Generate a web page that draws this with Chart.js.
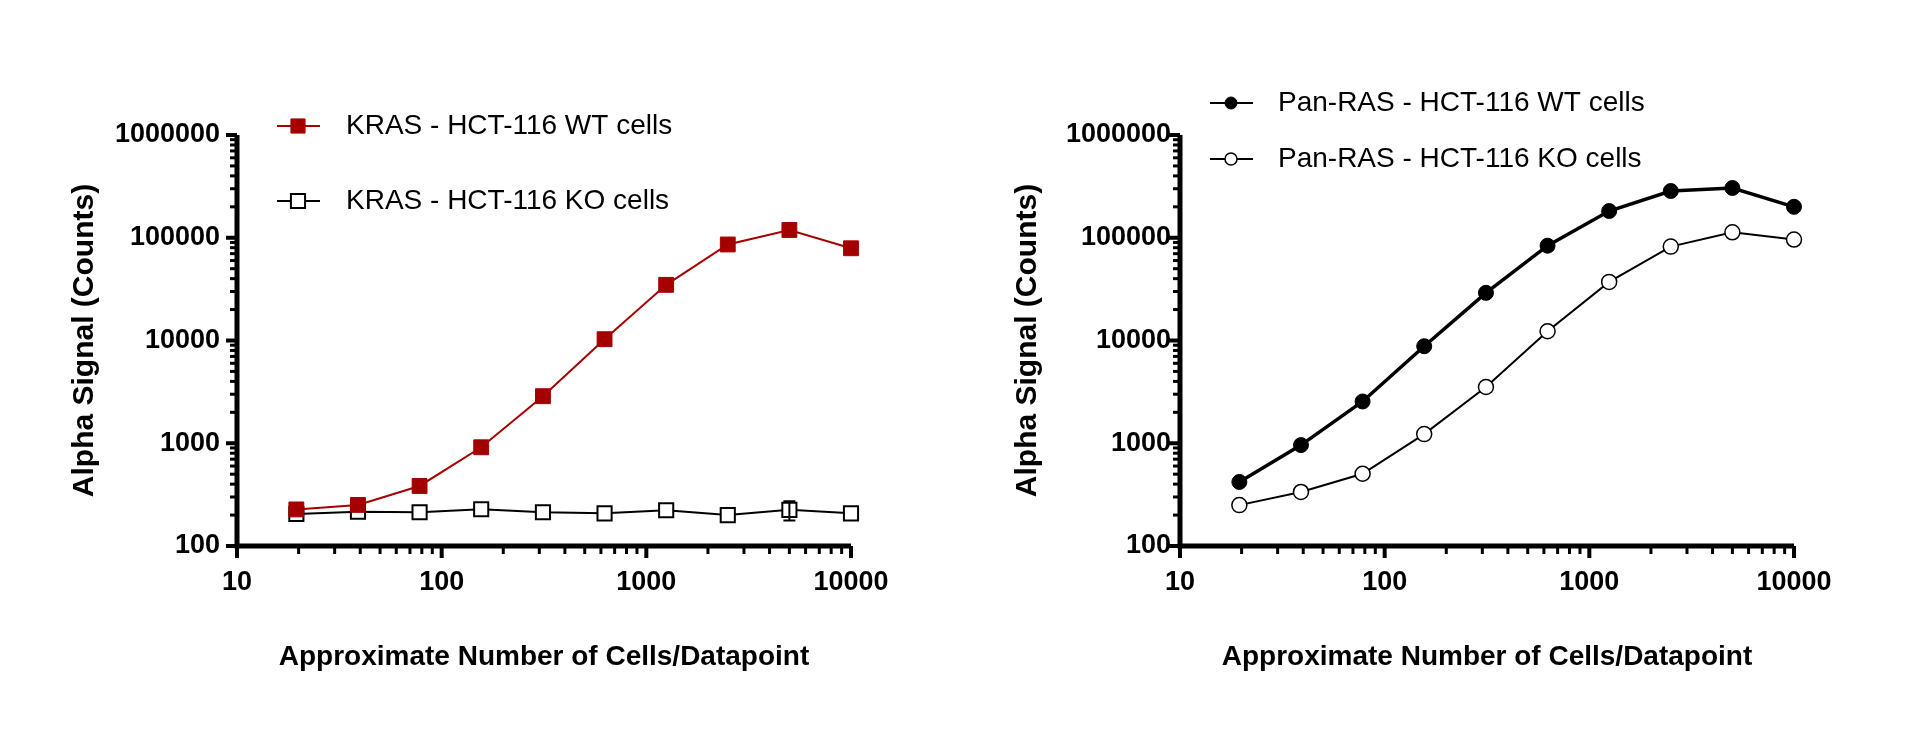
<!DOCTYPE html>
<html>
<head>
<meta charset="utf-8">
<script src="https://cdn.jsdelivr.net/npm/chart.js@4.4.0/dist/chart.umd.min.js"></script>
<style>
    html, body { margin: 0; padding: 0; background: #fff; }
    #wrap { position: relative; width: 1920px; height: 736px; overflow: hidden; }
    canvas { position: absolute; top: 0; }
</style>
</head>
<body>
<div id="wrap">
    <canvas id="krasChart" width="960" height="736" style="left:0px"></canvas>
    <canvas id="panChart" width="960" height="736" style="left:943px"></canvas>
</div>
<script>
// cells per datapoint (2-fold dilutions)
const cellCounts = [19.5, 39, 78, 156, 312.5, 625, 1250, 2500, 5000, 10000];

// left panel
const krasWT = [227, 251, 384, 914, 2870, 10300, 34800, 86000, 119000, 79000];
const krasKO = [205, 216, 213, 228, 213, 208, 223, 200, 225, 208];
const krasKOErr = [0, 0, 0, 0, 0, 0, 0, 0, 48, 0];

// right panel
const panWT = [420, 960, 2550, 8800, 29100, 83700, 182000, 285000, 305000, 200000];
const panKO = [250, 336, 505, 1227, 3525, 12300, 37200, 82000, 113000, 96000];

// axis ticks
const xTicks = [10, 100, 1000, 10000];
const yTicks = [100, 1000, 10000, 100000, 1000000];

const FONT = "'Liberation Sans', Arial, Helvetica, sans-serif";
const RED = '#A50000';

function minorTicks(majors) {
    const out = [];
    for (let i = 0; i < majors.length - 1; i++) {
        for (let m = 2; m <= 9; m++) out.push(majors[i] * m);
    }
    return out;
}

function pairs(values) {
    return cellCounts.map((c, i) => ({ x: c, y: values[i] }));
}

// axis lines + outward tick marks like the Prism export
const axesPlugin = {
    id: 'prismAxes',
    beforeDatasetsDraw(chart) {
        const { ctx, chartArea: a, scales: { x, y } } = chart;
        ctx.save();
        ctx.strokeStyle = '#000';
        ctx.lineWidth = 5;
        ctx.beginPath();
        ctx.moveTo(a.left, a.top);
        ctx.lineTo(a.left, a.bottom + 2.5);
        ctx.moveTo(a.left - 2.5, a.bottom);
        ctx.lineTo(a.right, a.bottom);
        ctx.stroke();

        const drawX = (v, len, w) => {
            const px = x.getPixelForValue(v);
            ctx.lineWidth = w;
            ctx.beginPath();
            ctx.moveTo(px, a.bottom);
            ctx.lineTo(px, a.bottom + len);
            ctx.stroke();
        };
        const drawY = (v, len, w) => {
            const py = y.getPixelForValue(v);
            ctx.lineWidth = w;
            ctx.beginPath();
            ctx.moveTo(a.left, py);
            ctx.lineTo(a.left - len, py);
            ctx.stroke();
        };
        minorTicks(xTicks).forEach(v => drawX(v, 8, 3));
        xTicks.forEach(v => drawX(v, 12, 4));
        minorTicks(yTicks).forEach(v => drawY(v, 7, 3));
        yTicks.forEach(v => drawY(v, 11, 4));
        ctx.restore();
    }
};

const errorBarPlugin = {
    id: 'errorBars',
    afterDatasetsDraw(chart) {
        const { ctx, scales: { y } } = chart;
        chart.data.datasets.forEach((ds, di) => {
            if (!ds.errors) return;
            const meta = chart.getDatasetMeta(di);
            ctx.save();
            ctx.strokeStyle = ds.borderColor;
            ctx.lineWidth = 2;
            ds.errors.forEach((e, i) => {
                if (!e) return;
                const pt = meta.data[i];
                const v = ds.data[i].y;
                const top = y.getPixelForValue(v + e);
                const bot = y.getPixelForValue(v - e);
                ctx.beginPath();
                ctx.moveTo(pt.x, top); ctx.lineTo(pt.x, bot);
                ctx.moveTo(pt.x - 6, top); ctx.lineTo(pt.x + 6, top);
                ctx.moveTo(pt.x - 6, bot); ctx.lineTo(pt.x + 6, bot);
                ctx.stroke();
            });
            ctx.restore();
        });
    }
};

// stacked legend in the top-left of the plot
const legendPlugin = {
    id: 'stackLegend',
    afterDraw(chart, args, opts) {
        const ctx = chart.ctx;
        chart.data.datasets.forEach((ds, i) => {
            const cy = opts.rows[i];
            ctx.save();
            ctx.strokeStyle = ds.borderColor;
            ctx.lineWidth = 2;
            ctx.beginPath();
            ctx.moveTo(opts.x - 21, cy);
            ctx.lineTo(opts.x + 22, cy);
            ctx.stroke();
            ctx.fillStyle = ds.pointBackgroundColor;
            ctx.strokeStyle = ds.pointBorderColor;
            ctx.lineWidth = ds.pointBorderWidth;
            Chart.helpers.drawPoint(ctx, {
                pointStyle: ds.pointStyle,
                rotation: 0,
                radius: opts.radius,
                borderWidth: ds.pointBorderWidth
            }, opts.x, cy);
            ctx.fillStyle = '#000';
            ctx.font = '28px ' + FONT;
            ctx.textBaseline = 'middle';
            ctx.textAlign = 'left';
            ctx.fillText(ds.label, opts.textX, cy);
            ctx.restore();
        });
    }
};

function makeChart(id, datasets, legendOpts, yTickPad) {
    const ctx = document.getElementById(id).getContext('2d');
    return new Chart(ctx, {
        type: 'line',
        data: { datasets },
        plugins: [axesPlugin, errorBarPlugin, legendPlugin],
        options: {
            responsive: false,
            animation: false,
            layout: { padding: { left: 0, top: 135, right: 109, bottom: 0 } },
            elements: { line: { tension: 0 } },
            scales: {
                x: {
                    type: 'logarithmic',
                    min: 10,
                    max: 10000,
                    afterBuildTicks: (s) => { s.ticks = xTicks.map(v => ({ value: v })); },
                    afterFit: (s) => { s.height = 190; },
                    grid: { display: false, drawTicks: false },
                    border: { display: false },
                    ticks: {
                        autoSkip: false,
                        maxRotation: 0,
                        padding: 20,
                        color: '#000',
                        font: { family: FONT, size: 27, weight: 'bold' },
                        callback: (v) => String(v)
                    },
                    title: {
                        display: true,
                        text: 'Approximate Number of Cells/Datapoint',
                        color: '#000',
                        font: { family: FONT, size: 28, weight: 'bold' },
                        padding: { top: 0, bottom: 62 }
                    }
                },
                y: {
                    type: 'logarithmic',
                    min: 100,
                    max: 1000000,
                    afterBuildTicks: (s) => { s.ticks = yTicks.map(v => ({ value: v })); },
                    afterFit: (s) => { s.width = 237; },
                    grid: { display: false, drawTicks: false },
                    border: { display: false },
                    ticks: {
                        autoSkip: false,
                        padding: yTickPad,
                        color: '#000',
                        font: { family: FONT, size: 27, weight: 'bold' },
                        callback: (v) => String(v)
                    },
                    title: {
                        display: true,
                        text: 'Alpha Signal (Counts)',
                        color: '#000',
                        font: { family: FONT, size: 30, weight: 'bold' },
                        padding: { top: 67, bottom: 0 }
                    }
                }
            },
            plugins: {
                legend: { display: false },
                tooltip: { enabled: false },
                stackLegend: legendOpts
            }
        }
    });
}

makeChart('krasChart', [
    {
        label: 'KRAS - HCT-116 WT cells',
        data: pairs(krasWT),
        borderColor: RED,
        borderWidth: 2,
        pointStyle: 'rect',
        pointRadius: 10.5,
        pointBackgroundColor: RED,
        pointBorderColor: RED,
        pointBorderWidth: 1,
        clip: false
    },
    {
        label: 'KRAS - HCT-116 KO cells',
        data: pairs(krasKO),
        errors: krasKOErr,
        borderColor: '#000',
        borderWidth: 2,
        pointStyle: 'rect',
        pointRadius: 10,
        pointBackgroundColor: '#fff',
        pointBorderColor: '#000',
        pointBorderWidth: 2,
        clip: false
    }
], { x: 298, rows: [126, 201], textX: 346, radius: 10 }, 17);

makeChart('panChart', [
    {
        label: 'Pan-RAS - HCT-116 WT cells',
        data: pairs(panWT),
        borderColor: '#000',
        borderWidth: 3.5,
        pointStyle: 'circle',
        pointRadius: 7.5,
        pointBackgroundColor: '#000',
        pointBorderColor: '#000',
        pointBorderWidth: 1,
        clip: false
    },
    {
        label: 'Pan-RAS - HCT-116 KO cells',
        data: pairs(panKO),
        borderColor: '#000',
        borderWidth: 2,
        pointStyle: 'circle',
        pointRadius: 7.5,
        pointBackgroundColor: '#fff',
        pointBorderColor: '#000',
        pointBorderWidth: 1.5,
        clip: false
    }
], { x: 288, rows: [103, 159], textX: 335, radius: 6 }, 9);
</script>
</body>
</html>
